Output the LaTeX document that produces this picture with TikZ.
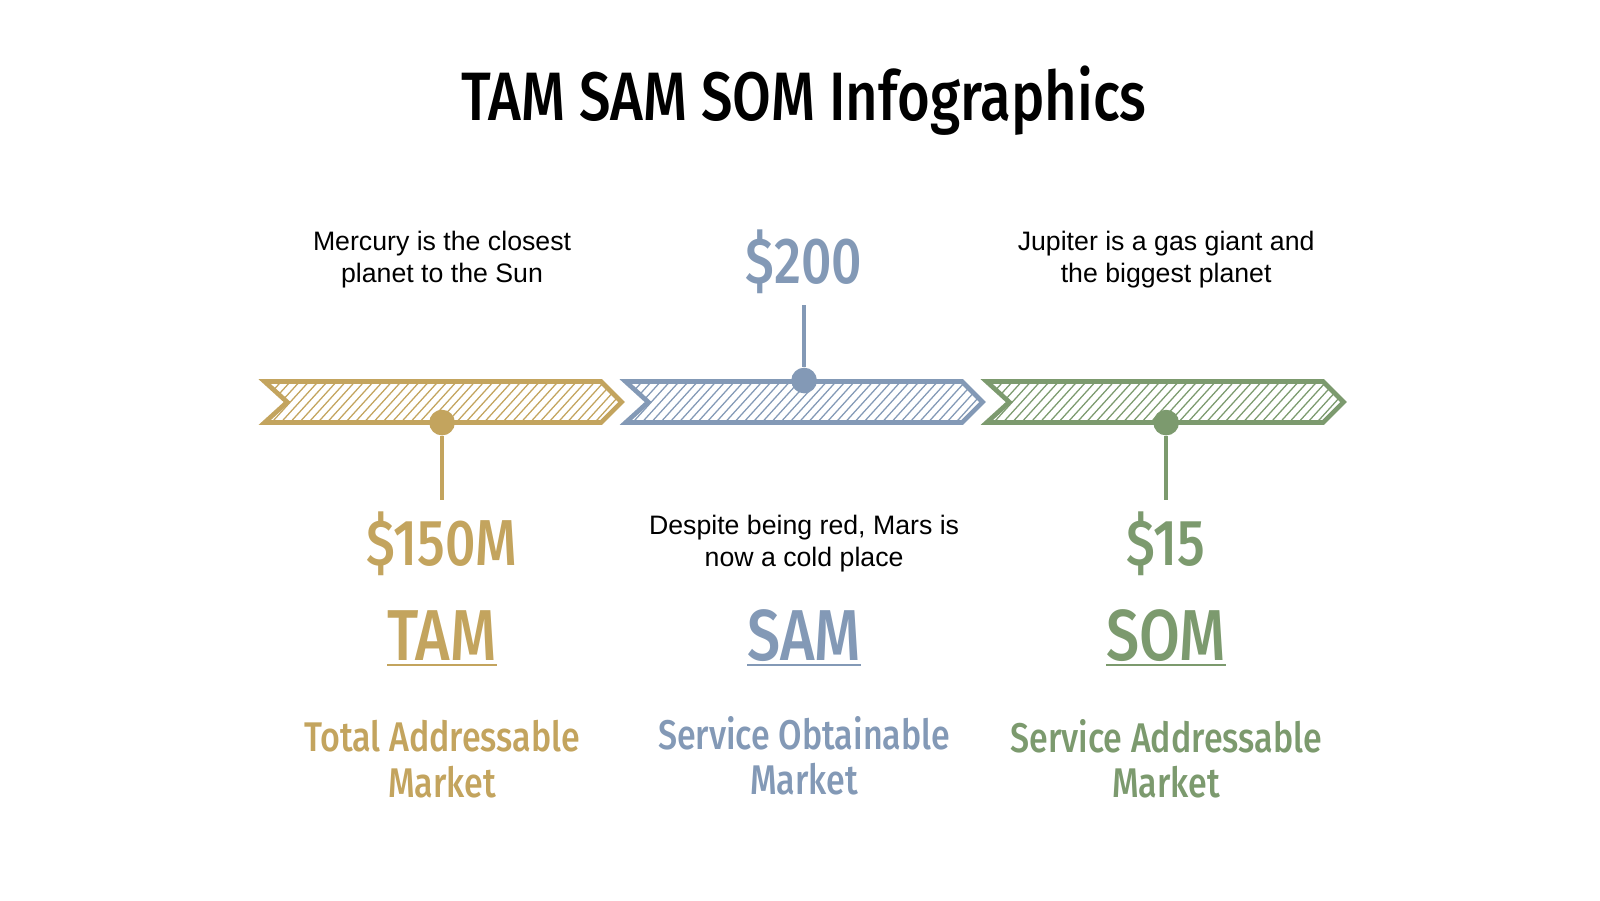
\documentclass[tikz,border=0pt]{standalone}
\usepackage{fontspec}
\setmainfont{Liberation Sans}
\newfontfamily\firacondsb[FakeStretch=0.82]{Fira Sans Medium}
\definecolor{tamgold}{HTML}{C3A45E}
\definecolor{samblue}{HTML}{8399B6}
\definecolor{somgreen}{HTML}{7C9A6E}
\tikzset{
  note/.style={align=center, font=\fontsize{7.4}{8.8}\selectfont},
  amount/.style={font=\firacondsb\fontsize{18}{20}\selectfont},
  tag/.style={font=\firacondsb\fontsize{20}{22}\selectfont},
  subtag/.style={align=center, font=\firacondsb\fontsize{11.5}{12.6}\selectfont},
  pin/.style={circle, fill, inner sep=0pt, minimum size=0.25cm},
}
\newcommand{\uline}[1]{\underline{\smash{#1}}}
\newcommand{\chevron}[2]{% left x, colour
  \begin{scope}
    \clip (#1,372) -- (#1+328,372) -- (#1+348,392) -- (#1+328,412) -- (#1,412) -- (#1+22,392) -- cycle;
    \foreach \k in {0,9,...,400}
      \draw[#2, line width=0.35pt] (#1-40+\k,414) -- (#1+\k,370);
  \end{scope}
  \draw[#2, line width=1.3pt, line join=miter] (#1,372) -- (#1+328,372) -- (#1+348,392) -- (#1+328,412) -- (#1,412) -- (#1+22,392) -- cycle;
}
\begin{document}
\begin{tikzpicture}[x=0.01cm, y=-0.01cm]
  \useasboundingbox (0,0) rectangle (1560,877.5);
  \node (title) at (784,98) {\firacondsb\fontsize{19}{22}\selectfont TAM SAM SOM Infographics};

  \chevron{258}{tamgold}
  \chevron{610}{samblue}
  \chevron{962}{somgreen}

  % TAM
  \node[pin, tamgold] (tampin) at (431,412) {};
  \coordinate (tamend) at (431,487);
  \draw[tamgold, line width=1.2pt] (tampin) -- (tamend);
  \node[note] (tamnote) at (431,253) {Mercury is the closest\\planet to the Sun};
  \node[amount, tamgold] (tamval) at (431,530) {\$150M};
  \node[tag, tamgold] (tamtag) at (431,647) {\uline{TAM}};
  \node[subtag, tamgold] (tamsub) at (431,740) {Total Addressable\\Market};

  % SAM
  \node[pin, samblue] (sampin) at (784,371) {};
  \coordinate (samend) at (784,297);
  \draw[samblue, line width=1.2pt] (sampin) -- (samend);
  \node[amount, samblue] (samval) at (784,255) {\$200};
  \node[note] (samnote) at (784,530) {Despite being red, Mars is\\now a cold place};
  \node[tag, samblue] (samtag) at (784,647) {\uline{SAM}};
  \node[subtag, samblue] (samsub) at (784,737) {Service Obtainable\\Market};

  % SOM
  \node[pin, somgreen] (sompin) at (1137,412) {};
  \coordinate (somend) at (1137,487);
  \draw[somgreen, line width=1.2pt] (sompin) -- (somend);
  \node[note] (somnote) at (1137,253) {Jupiter is a gas giant and\\the biggest planet};
  \node[amount, somgreen] (somval) at (1137,530) {\$15};
  \node[tag, somgreen] (somtag) at (1137,647) {\uline{SOM}};
  \node[subtag, somgreen] (somsub) at (1137,740) {Service Addressable\\Market};
\end{tikzpicture}
\end{document}
